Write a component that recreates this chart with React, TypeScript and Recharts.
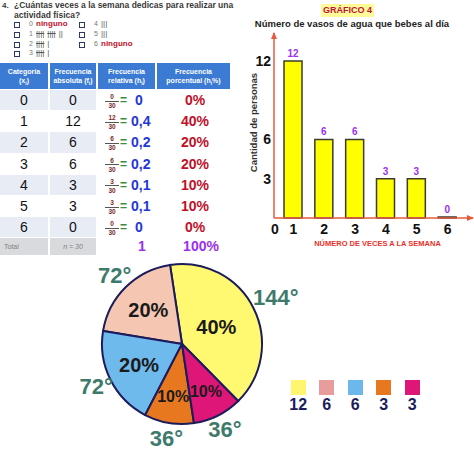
import React from 'react';
import * as R from 'recharts';
import { BarChart, Bar, XAxis, YAxis, LabelList, PieChart, Pie, Cell, Legend } from 'recharts';

// ---------------- data ----------------
const tableCategories = [0, 1, 2, 3, 4, 5, 6];
const tableFrequencies = [0, 12, 6, 6, 3, 3, 0];
const totalPersons = 30;

const barCategories = ['1', '2', '3', '4', '5', '6'];
const barValues = [12, 6, 6, 3, 3, 0];
const yTicks = [0, 3, 6, 12];

const pieCategories = ['1', '2', '3', '4', '5'];
const pieValues = [12, 6, 6, 3, 3];
const pieColors = ['#fff870', '#f5c6b2', '#6fbaec', '#e8781f', '#de1678'];
const legendColors = ['#fff56e', '#e99c9c', '#6cb8ec', '#e8781f', '#de1678'];

// ---------------- styles ----------------
const FONT = '"Liberation Sans", Arial, sans-serif';
const AXIS_COLOR = '#e65a3c';
const BLUE = '#1f37d6';
const RED = '#c0102a';
const PURPLE = '#9b30ee';
const TEAL = '#3e7a6c';
const NAVY = '#1c1c5c';

const barData = barCategories.map((c, i) => ({ name: c, value: barValues[i] }));
const pieData = pieCategories.map((c, i) => ({ name: c, value: pieValues[i] }));

const fmtRel = (v: number) => (v === 0 ? '0' : v.toFixed(1).replace('.', ','));

// ---------------- question block ----------------
function Tally({ n }: { n: number }) {
  if (n === 0) {
    return <span style={{ color: RED, fontWeight: 'bold', fontSize: 8 }}>ninguno</span>;
  }
  const groups = Math.floor(n / 5);
  const rest = n % 5;
  const parts: React.ReactNode[] = [];
  for (let g = 0; g < groups; g++) {
    parts.push(
      <span key={'g' + g} style={{ textDecoration: 'line-through', marginRight: 3 }}>
        ||||
      </span>
    );
  }
  if (rest > 0) parts.push(<span key="r">{'|'.repeat(rest)}</span>);
  return <span style={{ color: '#555', fontSize: 8 }}>{parts}</span>;
}

function Option({ cat, freq, left, yc }: { cat: number; freq: number; left: number; yc: number }) {
  const base: React.CSSProperties = { position: 'absolute', top: 0, height: 10, lineHeight: '10px', fontSize: 8, whiteSpace: 'nowrap' };
  return (
    <div style={{ position: 'absolute', left, top: yc - 5, height: 10, width: 70, fontSize: 8, lineHeight: '10px' }}>
      <div style={{ position: 'absolute', left: 0, top: 2.5, width: 4, height: 4, border: '1px solid #2b3a67' }} />
      <div style={{ ...base, left: 15, fontSize: 7, color: '#777' }}>{cat}</div>
      <div style={{ ...base, left: 22 }}>
        <Tally n={freq} />
      </div>
    </div>
  );
}

function Question() {
  const leftRows = [24, 34, 44, 53];
  return (
    <>
      <div style={{ position: 'absolute', left: 2, top: 1, fontSize: 8, fontWeight: 'bold', color: '#3a3a3a', lineHeight: '9.5px' }}>4.</div>
      <div style={{ position: 'absolute', left: 14, top: 1, fontSize: 8.5, fontWeight: 'bold', color: '#3a3a3a', lineHeight: '9.5px', whiteSpace: 'nowrap' }}>
        ¿Cuántas veces a la semana dedicas para realizar una
        <br />
        actividad física?
      </div>
      {tableCategories.map((c, i) =>
        i < 4 ? (
          <Option key={c} cat={c} freq={tableFrequencies[i]} left={14} yc={leftRows[i]} />
        ) : (
          <Option key={c} cat={c} freq={tableFrequencies[i]} left={79} yc={leftRows[i - 4]} />
        )
      )}
    </>
  );
}

// ---------------- frequency table ----------------
const colX = [0, 50, 98, 157];
const colW = [48, 46, 57, 73];
const HEADER_TOP = 63;
const HEADER_H = 26;
const ROW_TOP = 90;
const ROW_H = 21.2;

function FreqTable() {
  const headers = [
    ['Categoría', <span key="a">(x<sub style={{ fontSize: 5 }}>i</sub>)</span>],
    ['Frecuencia', <span key="b">absoluta (f<sub style={{ fontSize: 5 }}>i</sub>)</span>],
    ['Frecuencia', <span key="c">relativa (h<sub style={{ fontSize: 5 }}>i</sub>)</span>],
    ['Frecuencia', <span key="d">porcentual (h<sub style={{ fontSize: 5 }}>i</sub>%)</span>],
  ];
  const totalTop = ROW_TOP + tableCategories.length * ROW_H;
  const sum = tableFrequencies.reduce((a, b) => a + b, 0);
  return (
    <>
      {headers.map((h, j) => (
        <div
          key={'h' + j}
          style={{
            position: 'absolute', left: colX[j], top: HEADER_TOP, width: colW[j], height: HEADER_H,
            background: '#3b7bd4', color: '#fff', fontWeight: 'bold', fontSize: 7, lineHeight: '9px',
            textAlign: 'center', paddingTop: 4, boxSizing: 'border-box',
          }}
        >
          {h[0]}
          <br />
          {h[1]}
        </div>
      ))}
      {tableCategories.map((c, i) => {
        const top = ROW_TOP + i * ROW_H;
        const f = tableFrequencies[i];
        const rel = f / totalPersons;
        const bg = i % 2 === 0 ? '#e8ecf5' : '#ffffff';
        return (
          <React.Fragment key={'r' + c}>
            <div style={{ position: 'absolute', left: colX[0], top, width: colW[0], height: ROW_H - 1, background: bg, fontSize: 14, lineHeight: ROW_H + 'px', textAlign: 'center', color: '#111' }}>{c}</div>
            <div style={{ position: 'absolute', left: colX[1], top, width: colW[1], height: ROW_H - 1, background: bg, fontSize: 14, lineHeight: ROW_H + 'px', textAlign: 'center', color: '#111' }}>{f}</div>
            {/* relative frequency */}
            <div style={{ position: 'absolute', left: 105, top: top + 3, width: 14, textAlign: 'center', fontSize: 6.5, fontWeight: 'bold', color: '#7a2a2a', lineHeight: '7px' }}>
              <div style={{ borderBottom: '1px solid #555', paddingBottom: 0.5 }}>{f}</div>
              <div style={{ paddingTop: 0.5 }}>{totalPersons}</div>
            </div>
            <div style={{ position: 'absolute', left: 120, top, fontSize: 12, fontWeight: 'bold', color: '#3c8c3c', lineHeight: ROW_H + 'px' }}>=</div>
            <div style={{ position: 'absolute', left: f === 0 ? 135 : 131, top, fontSize: 14, fontWeight: 'bold', color: BLUE, lineHeight: ROW_H + 'px' }}>{fmtRel(rel)}</div>
            {/* percent */}
            <div style={{ position: 'absolute', left: 165, top, width: 60, textAlign: 'center', fontSize: 14, fontWeight: 'bold', color: RED, lineHeight: ROW_H + 'px' }}>{Math.round(rel * 100)}%</div>
          </React.Fragment>
        );
      })}
      <div style={{ position: 'absolute', left: colX[0], top: totalTop, width: colW[0], height: 17, background: '#d9dade', fontSize: 7, color: '#7f7f7f', lineHeight: '17px', paddingLeft: 4, boxSizing: 'border-box' }}>Total</div>
      <div style={{ position: 'absolute', left: colX[1], top: totalTop, width: colW[1], height: 17, background: '#d9dade', fontSize: 7, color: '#7f7f7f', lineHeight: '17px', textAlign: 'center', fontStyle: 'italic' }}>n = {totalPersons}</div>
      <div style={{ position: 'absolute', left: 138, top: totalTop - 2, fontSize: 14, fontWeight: 'bold', color: PURPLE, lineHeight: '20px' }}>
        {sum / totalPersons}
      </div>
      <div style={{ position: 'absolute', left: 171, top: totalTop - 2, width: 60, textAlign: 'center', fontSize: 14, fontWeight: 'bold', color: PURPLE, lineHeight: '20px' }}>
        {Math.round((sum / totalPersons) * 100)}%
      </div>
    </>
  );
}

// ---------------- bar chart ----------------
const usePlotAreaHook: any = (R as any).usePlotArea;

function AxisArrows() {
  const area = usePlotAreaHook ? usePlotAreaHook() : null;
  if (!area) return null;
  const { x, y, width, height } = area;
  return (
    <g fill={AXIS_COLOR}>
      <polygon points={`${x - 3},${y + 6} ${x + 3},${y + 6} ${x},${y - 1}`} />
      <polygon points={`${x + width - 6},${y + height - 3} ${x + width - 6},${y + height + 3} ${x + width + 1},${y + height}`} />
    </g>
  );
}

const YTick = (props: any) => {
  const { x, y, payload } = props;
  if (payload.value === 0) {
    return (
      <text x={x + 4} y={y + 16} textAnchor="middle" fontSize={14} fontWeight="bold" fill="#111" fontFamily={FONT}>
        0
      </text>
    );
  }
  return (
    <text x={x} y={y + 5} textAnchor="end" fontSize={14} fontWeight="bold" fill="#111" fontFamily={FONT}>
      {payload.value}
    </text>
  );
};

const XTick = (props: any) => {
  const { x, y, payload } = props;
  return (
    <text x={x} y={y + 16} textAnchor="middle" fontSize={14} fontWeight="bold" fill="#111" fontFamily={FONT}>
      {payload.value}
    </text>
  );
};

const YLabel = (props: any) => {
  const vb = props.viewBox || { x: 0, y: 33, width: 34, height: 185 };
  const cx = vb.x + 13;
  const cy = vb.y + vb.height / 2 - 3;
  return (
    <text x={cx} y={cy} transform={`rotate(-90, ${cx}, ${cy})`} textAnchor="middle" dominantBaseline="central" fontSize={9.5} fontWeight="bold" fill="#333" fontFamily={FONT}>
      Cantidad de personas
    </text>
  );
};

const XLabel = (props: any) => {
  const vb = props.viewBox || { x: 34, y: 218, width: 199, height: 32 };
  return (
    <text x={vb.x + vb.width / 2 + 4} y={vb.y + 28} textAnchor="middle" fontSize={7.5} fontWeight="bold" fill="#e8312a" fontFamily={FONT}>
      NÚMERO DE VECES A LA SEMANA
    </text>
  );
};

function WaterBarChart() {
  return (
    <div style={{ position: 'absolute', left: 240, top: 0, width: 234, height: 250 }}>
      <BarChart width={234} height={250} data={barData} margin={{ top: 33, right: 1, bottom: 0, left: 0 }}>
        <XAxis
          dataKey="name"
          axisLine={{ stroke: AXIS_COLOR, strokeWidth: 1.5 }}
          tickLine={false}
          tickSize={0}
          tickMargin={0}
          height={32}
          padding={{ left: 4, right: 10 }}
          tick={<XTick />}
          interval={0}
          label={<XLabel />}
        />
        <YAxis
          type="number"
          domain={[0, 14.14]}
          ticks={yTicks}
          interval={0}
          width={34}
          axisLine={{ stroke: AXIS_COLOR, strokeWidth: 1.5 }}
          tickLine={false}
          tickSize={0}
          tickMargin={3}
          tick={<YTick />}
          label={<YLabel />}
        />
        <Bar dataKey="value" fill="#ffff00" stroke="#3b3b2e" strokeWidth={1.5} barSize={18} minPointSize={1} isAnimationActive={false}>
          <LabelList dataKey="value" position="top" offset={4} fill={PURPLE} fontSize={10} fontWeight="bold" fontFamily={FONT} />
        </Bar>
        <AxisArrows />
      </BarChart>
    </div>
  );
}

// ---------------- pie chart ----------------
const RAD = Math.PI / 180;

const renderPieLabel = (props: any) => {
  const { cx, cy, midAngle, outerRadius, percent, index } = props;
  const pct = Math.round(percent * 100);
  const deg = `${Math.round(percent * 360)}°`;
  const inner = pct >= 30 ? 0.48 : pct >= 15 ? 0.6 : 0.67;
  const c = Math.cos(-midAngle * RAD);
  const s = Math.sin(-midAngle * RAD);
  const rIn = outerRadius * inner;
  // push wider degree labels further out so they clear the rim
  const rOut = outerRadius * 1.2 + Math.max(0, deg.length - 3) * 10 * Math.abs(c);
  return (
    <g key={'lbl' + index}>
      <text x={cx + rIn * c} y={cy + rIn * s} textAnchor="middle" dominantBaseline="central" fontSize={pct >= 15 ? 20 : 16} fontWeight="bold" fill="#1a1a1a" fontFamily={FONT}>
        {pct}%
      </text>
      <text x={cx + rOut * c} y={cy + rOut * s} textAnchor="middle" dominantBaseline="central" fontSize={22} fontWeight="bold" fill={TEAL} fontFamily={FONT}>
        {deg}
      </text>
    </g>
  );
};

const PieLegend = () => (
  <div style={{ display: 'flex', fontFamily: FONT }}>
    {pieValues.map((v, i) => (
      <div key={i} style={{ width: 28.5, display: 'flex', flexDirection: 'column', alignItems: 'center' }}>
        <div style={{ width: 15, height: 15, background: legendColors[i] }} />
        <div style={{ fontSize: 16, fontWeight: 'bold', color: NAVY, lineHeight: '16px', marginTop: 2 }}>{v}</div>
      </div>
    ))}
  </div>
);

function DegreesPieChart() {
  return (
    <div style={{ position: 'absolute', left: 0, top: 255, width: 474, height: 195 }}>
      <PieChart width={474} height={195} margin={{ top: 0, right: 0, bottom: 0, left: 0 }}>
        <Pie
          data={pieData}
          dataKey="value"
          nameKey="name"
          cx={182}
          cy={89}
          outerRadius={80}
          startAngle={-45.4}
          endAngle={314.6}
          stroke={NAVY}
          strokeWidth={2}
          label={renderPieLabel}
          labelLine={false}
          isAnimationActive={false}
        >
          {pieData.map((d, i) => (
            <Cell key={d.name} fill={pieColors[i]} stroke={NAVY} strokeWidth={2} />
          ))}
        </Pie>
        <Legend content={<PieLegend />} wrapperStyle={{ left: 284, top: 125, bottom: 'auto', width: 143 }} />
      </PieChart>
    </div>
  );
}

// ---------------- app ----------------
export default function App() {
  return (
    <div style={{ position: 'absolute', left: 0, top: 0, width: 474, height: 450, background: '#fff', overflow: 'hidden', fontFamily: FONT }}>
      <Question />
      <FreqTable />
      <div style={{ position: 'absolute', left: 321, top: 4, width: 53, height: 13, background: '#fffb96', color: '#c01040', fontWeight: 'bold', fontSize: 9, textAlign: 'center', lineHeight: '13px', whiteSpace: 'nowrap' }}>
        GRÁFICO 4
      </div>
      <div style={{ position: 'absolute', left: 247, top: 18, width: 210, textAlign: 'center', fontSize: 9.5, fontWeight: 'bold', color: '#222', lineHeight: '11px', whiteSpace: 'nowrap' }}>
        Número de vasos de agua que bebes al día
      </div>
      <WaterBarChart />
      <DegreesPieChart />
    </div>
  );
}
